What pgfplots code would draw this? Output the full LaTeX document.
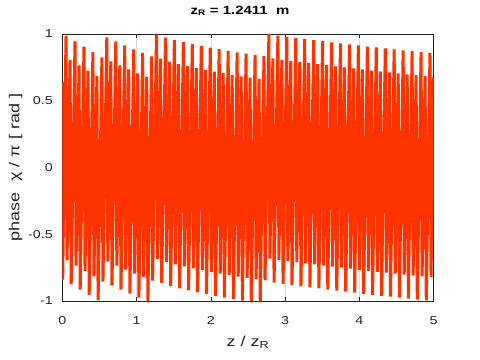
\documentclass[border=0pt]{standalone}
\usepackage{pgfplots}
\pgfplotsset{compat=1.18}
\usepackage{fontspec}
\setmainfont[FakeStretch=1.25]{Liberation Sans}
\definecolor{axgray}{RGB}{38,38,38}
\definecolor{gridgray}{RGB}{222,222,222}
\definecolor{linered}{RGB}{255,51,0}
\begin{document}
\begin{tikzpicture}
\useasboundingbox (0,0) rectangle (480bp,360bp);
\begin{axis}[
  at={(62.3bp,59bp)}, anchor=south west,
  scale only axis, width=371.4bp, height=267bp,
  xmin=0, xmax=5, ymin=-1, ymax=1,
  enlargelimits=false,
  xtick={0,1,2,3,4,5},
  xticklabels={0,1,2,3,4,5},
  ytick={-1,-0.5,0,0.5,1},
  yticklabels={-1,-0.5,0,0.5,1},
  tick align=inside,
  xtick pos=both, ytick pos=both,
  major tick length=3.7bp,
  tick style={color=axgray, line width=0.6bp},
  axis line style={color=axgray, line width=0.75bp},
  xmajorgrids, ymajorgrids,
  major grid style={color=gridgray, line width=0.6bp},
  ticklabel style={font=\fontsize{11.5}{13}\selectfont, text=axgray},
  xticklabel style={inner sep=0pt, anchor=north, yshift=-15bp},
  yticklabel style={inner sep=0pt, anchor=east, xshift=-9.3bp},
  /pgf/number format/assume math mode=true,
  title={\textbf{z\textsubscript{R} = 1.2411\ \ m}},
  title style={font=\fontsize{12}{14}\selectfont, at={(axis description cs:0.5,1)}, anchor=base, yshift=14bp, xshift=-8bp, inner sep=0pt},
  xlabel={z / z\textsubscript{R}},
  xlabel style={font=\fontsize{14.5}{16}\selectfont, text=axgray, at={(axis description cs:0.5,0)}, anchor=base, yshift=-45.7bp, inner sep=0pt},
  ylabel={phase\ \ χ / π [ rad ]},
  ylabel style={font=\fontsize{14.5}{16}\selectfont, text=axgray, at={(axis description cs:0,0.5)}, anchor=base, yshift=43bp, inner sep=0pt},
]
\addplot[color=linered, line width=3bp, line join=bevel, no markers] coordinates {
(0,0.64) (0.005,-0.84)
(0.050,0.985) (0.064,-0.695) (0.104,0.805) (0.120,-0.875)
(0.171,0.945) (0.185,-0.735) (0.225,0.765) (0.241,-0.915)
(0.292,0.905) (0.306,-0.775) (0.346,0.725) (0.362,-0.955)
(0.412,0.865) (0.426,-0.815) (0.466,0.685) (0.482,-0.995)
(0.533,0.825) (0.547,-0.855)
(0.599,0.975) (0.613,-0.705) (0.653,0.795) (0.669,-0.885)
(0.720,0.945) (0.734,-0.735) (0.774,0.765) (0.790,-0.915)
(0.840,0.915) (0.854,-0.765) (0.894,0.735) (0.910,-0.945)
(0.961,0.885) (0.975,-0.795) (1.015,0.705) (1.031,-0.975)
(1.082,0.858) (1.096,-0.822) (1.136,0.678) (1.152,-1.0)
(1.202,0.832) (1.216,-0.848)
(1.268,0.995) (1.282,-0.685) (1.322,0.815) (1.338,-0.865)
(1.389,0.972) (1.403,-0.708) (1.443,0.792) (1.459,-0.888)
(1.509,0.955) (1.523,-0.725) (1.563,0.775) (1.579,-0.905)
(1.630,0.940) (1.644,-0.740) (1.684,0.760) (1.700,-0.920)
(1.750,0.925) (1.764,-0.755) (1.804,0.745) (1.820,-0.935)
(1.871,0.911) (1.885,-0.769) (1.925,0.731) (1.941,-0.949)
(1.992,0.898) (2.006,-0.782) (2.046,0.718) (2.062,-0.962)
(2.112,0.886) (2.126,-0.794) (2.166,0.706) (2.182,-0.974)
(2.233,0.874) (2.247,-0.806) (2.287,0.694) (2.303,-0.986)
(2.354,0.863) (2.368,-0.817) (2.408,0.683) (2.424,-0.997)
(2.474,0.853) (2.488,-0.827) (2.528,0.673) (2.544,-1.0)
(2.595,0.843) (2.609,-0.837) (2.649,0.663) (2.665,-1.0)
(2.715,0.834) (2.729,-0.846)
(2.781,0.998) (2.795,-0.682) (2.835,0.818) (2.851,-0.862)
(2.902,0.988) (2.916,-0.692) (2.956,0.808) (2.972,-0.872)
(3.022,0.979) (3.036,-0.701) (3.076,0.799) (3.092,-0.881)
(3.143,0.970) (3.157,-0.710) (3.197,0.790) (3.213,-0.890)
(3.263,0.962) (3.277,-0.718) (3.317,0.782) (3.333,-0.898)
(3.384,0.954) (3.398,-0.726) (3.438,0.774) (3.454,-0.906)
(3.504,0.946) (3.518,-0.734) (3.558,0.766) (3.574,-0.914)
(3.625,0.938) (3.639,-0.742) (3.679,0.758) (3.695,-0.922)
(3.745,0.930) (3.759,-0.750) (3.799,0.750) (3.815,-0.930)
(3.866,0.922) (3.880,-0.758) (3.920,0.742) (3.936,-0.938)
(3.986,0.914) (4.000,-0.766) (4.040,0.734) (4.056,-0.946)
(4.107,0.906) (4.121,-0.774) (4.161,0.726) (4.177,-0.954)
(4.227,0.899) (4.241,-0.781) (4.281,0.719) (4.297,-0.961)
(4.348,0.892) (4.362,-0.788) (4.402,0.712) (4.418,-0.968)
(4.468,0.885) (4.482,-0.795) (4.522,0.705) (4.538,-0.975)
(4.589,0.878) (4.603,-0.802) (4.643,0.698) (4.659,-0.982)
(4.709,0.871) (4.723,-0.809) (4.763,0.691) (4.779,-0.989)
(4.830,0.864) (4.844,-0.816) (4.884,0.684) (4.900,-0.996)
(4.950,0.858) (4.964,-0.822) (4.998,0.678)
};
\end{axis}
\end{tikzpicture}
\end{document}
